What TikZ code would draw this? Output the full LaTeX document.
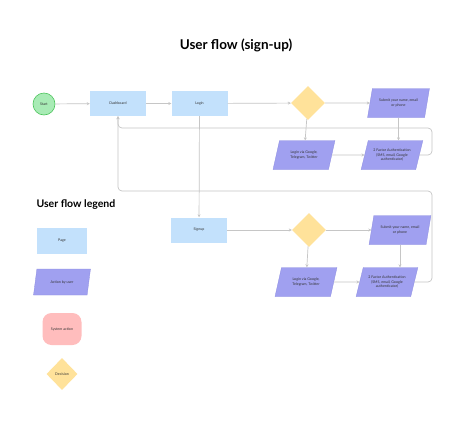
\documentclass[tikz,border=0pt]{standalone}
\usepackage{fontspec}
\setmainfont{Lato}
\usetikzlibrary{shapes.geometric,arrows.meta}
\definecolor{pagec}{HTML}{C3E1FC}
\definecolor{actc}{HTML}{A0A0F0}
\definecolor{actd}{HTML}{8C8CE0}
\definecolor{decc}{HTML}{FFE29A}
\definecolor{sysc}{HTML}{FFBDBD}
\definecolor{startc}{HTML}{A8EBB5}
\definecolor{startd}{HTML}{4CC45C}
\definecolor{linec}{HTML}{C6C6C6}
\tikzset{
  tiny/.style={font=\fontsize{3.6}{4.4}\selectfont, align=center, text=black!80},
  pagebox/.style={tiny, rectangle, fill=pagec, minimum width=56pt, minimum height=25pt, inner sep=0pt},
  actbox/.style={tiny, trapezium, trapezium left angle=65, trapezium right angle=115, trapezium stretches=true, fill=actc, draw=actd, line width=0.3pt, minimum width=62pt, minimum height=29pt, inner sep=0pt},
  decbox/.style={tiny, diamond, fill=decc, minimum width=34pt, minimum height=34pt, inner sep=0pt},
  sysbox/.style={tiny, rectangle, rounded corners=9pt, fill=sysc, minimum width=39pt, minimum height=32pt, inner sep=0pt},
  startbox/.style={tiny, circle, fill=startc, draw=startd, line width=0.6pt, minimum size=22pt, inner sep=0pt},
  flow/.style={draw=linec, line width=0.7pt, -{Stealth[length=3pt,width=3pt]}},
  loopline/.style={flow, rounded corners=4pt}
}
\begin{document}
\begin{tikzpicture}[x=1pt,y=-1pt]
\useasboundingbox[fill=white] (0,0) rectangle (474,424);
\node[font=\fontsize{13.5}{16}\selectfont\bfseries] (title) at (236,45) {User flow (sign-up)};

% top flow
\node[startbox] (start) at (44,104) {Start};
\node[pagebox] (dash) at (118,103.5) {Dashboard};
\node[pagebox] (login) at (199.5,103.5) {Login};
\node[decbox] (d1) at (308,103) {};
\node[actbox] (sub1) at (398.5,103) {Submit your name, email\\or phone};
\node[actbox] (via1) at (304,155) {Login via Google,\\Telegram, Twitter};
\node[actbox] (fa1) at (392,155) {2 Factor Authentication\\(SMS, email, Google\\authenticator)};

% bottom flow
\node[pagebox] (signup) at (199,230) {Signup};
\node[decbox] (d2) at (309,230) {};
\node[actbox] (sub2) at (400,230) {Submit your name, email\\or phone};
\node[actbox] (via2) at (306,282) {Login via Google,\\Telegram, Twitter};
\node[actbox] (fa2) at (387,282) {2 Factor Authentication\\(SMS, email, Google\\authenticator)};

\coordinate (rt) at (432,128);
\coordinate (rb) at (432,191);

\draw[flow] (start) -- (dash);
\draw[flow] (dash) -- (login);
\draw[flow] (login) -- (d1);
\draw[flow] (d1) -- (sub1);
\draw[flow] (d1) -- (via1);
\draw[flow] (sub1.south) -- (sub1.south |- fa1.north);
\draw[flow] (via1) -- (fa1);
\draw[loopline] (fa1.east) -| (rt) -| (dash.south);
\draw[flow] (login) -- (signup);
\draw[flow] (signup) -- (d2);
\draw[flow] (d2) -- (sub2);
\draw[flow] (d2) -- (via2);
\draw[flow] (sub2.south) -- (sub2.south |- fa2.north);
\draw[flow] (via2) -- (fa2);
\draw[loopline] (fa2.east) -| (rb) -| (dash.south);

% legend
\node[font=\fontsize{10.5}{12}\selectfont\bfseries, anchor=west] (legend) at (33,205) {User flow legend};
\node[pagebox, minimum width=50pt, minimum height=26pt] (lpage) at (62,240.5) {Page};
\node[actbox, minimum width=57pt, minimum height=26pt] (lact) at (62,282) {Action by user};
\node[sysbox] (lsys) at (62,329) {System action};
\node[decbox, minimum width=31pt, minimum height=32pt] (ldec) at (62,374) {Decision};
\end{tikzpicture}
\end{document}
